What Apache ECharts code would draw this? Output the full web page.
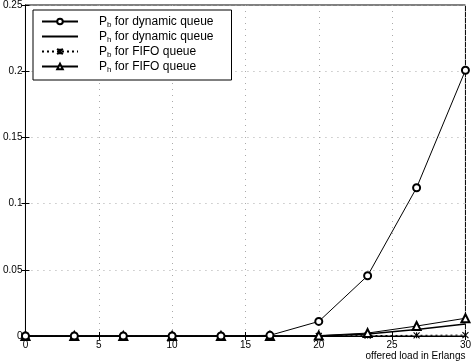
<!DOCTYPE html>
<html>
<head>
<meta charset="utf-8">
<script src="https://cdn.jsdelivr.net/npm/echarts@6/dist/echarts.min.js"></script>
<style>html,body{margin:0;padding:0;background:#fff}#c{width:474px;height:362px}</style>
</head>
<body>
<div id="c"></div>
<script>
const load = [0, 3.33, 6.67, 10, 13.33, 16.67, 20, 23.33, 26.67, 30];
const pbDynamic = [0, 0, 0, 0, 0, 0.0005, 0.011, 0.0455, 0.112, 0.2007];
const phDynamic = [0, 0, 0, 0, 0, 0, 0, 0.0015, 0.005, 0.009];
const pbFifo = [0, 0, 0, 0, 0, 0, 0, 0.0003, 0.0005, 0.0007];
const phFifo = [0, 0, 0, 0, 0, 0, 0.0003, 0.0022, 0.0075, 0.0134];
const xTicks = [0, 5, 10, 15, 20, 25, 30];
const yTicks = [0, 0.05, 0.1, 0.15, 0.2, 0.25];
const legendNames = [
  ['b', 'for dynamic queue'],
  ['h', 'for dynamic queue'],
  ['b', 'for FIFO queue'],
  ['h', 'for FIFO queue']
];
const xName = 'offered load in Erlangs';

const pairs = arr => load.map((x, i) => [x, arr[i]]);
const font = 'Liberation Sans, Arial, Helvetica, sans-serif';
const chart = echarts.init(document.getElementById('c'));
const names = legendNames.map((n, i) => 'S' + i);
const common = {
  type: 'line', color: '#000', animation: false,
  lineStyle: { color: '#000', width: 1 },
  itemStyle: { color: '#000', borderColor: '#000', borderWidth: 1.1 }
};
chart.setOption({
  animation: false,
  backgroundColor: '#fff',
  textStyle: { fontFamily: font },
  grid: { left: 22, right: 5, top: 4, bottom: 26, show: true, borderColor: '#000', borderWidth: 1, backgroundColor: 'transparent' },
  legend: {
    orient: 'vertical', left: 33, top: 10,
    backgroundColor: '#fff', borderColor: '#000', borderWidth: 1,
    padding: [4, 18, 6, 8], itemGap: 0, itemWidth: 36, itemHeight: 7,
    data: [
      { name: names[0] },
      { name: names[1], itemStyle: { opacity: 0 } },
      { name: names[2] },
      { name: names[3] }
    ],
    formatter: name => {
      const i = names.indexOf(name);
      return '{m|P}{s|' + legendNames[i][0] + '}{m| ' + legendNames[i][1] + '}';
    },
    textStyle: {
      color: '#000', fontFamily: font, fontSize: 12, padding: [0, 0, 0, 16],
      rich: {
        m: { fontSize: 12, fontFamily: font, color: '#000', lineHeight: 15 },
        s: { fontSize: 8, fontFamily: font, color: '#000', padding: [7, 0, 0, 0], lineHeight: 15 }
      }
    }
  },
  xAxis: [{
    type: 'value', min: 0, max: 30, interval: 5,
    name: xName, nameLocation: 'end', nameGap: 0,
    nameTextStyle: { fontSize: 10, color: '#000', align: 'right', verticalAlign: 'top', padding: [15, 0, 0, 0], fontFamily: font },
    axisLine: { show: true, lineStyle: { color: '#000' } },
    axisTick: { inside: true, length: 4, lineStyle: { color: '#000' } },
    axisLabel: { color: '#000', fontSize: 10, margin: 4, formatter: v => xTicks.includes(v) ? String(v) : '' },
    splitLine: { show: true, lineStyle: { type: [1, 5], color: '#aaa' } }
  }, {
    type: 'value', min: 0, max: 30, interval: 5, position: 'top',
    axisLine: { show: true, lineStyle: { color: '#000' } },
    axisTick: { inside: true, length: 4, lineStyle: { color: '#000' } },
    axisLabel: { show: false }, splitLine: { show: false }
  }],
  yAxis: [{
    type: 'value', min: 0, max: 0.25, interval: 0.05,
    axisLine: { show: true, lineStyle: { color: '#000' } },
    axisTick: { inside: true, length: 4, lineStyle: { color: '#000' } },
    axisLabel: { color: '#000', fontSize: 10, margin: 3, formatter: v => {
      const t = yTicks.find(y => Math.abs(y - v) < 1e-9);
      return t === undefined ? '' : String(+t.toFixed(2));
    } },
    splitLine: { show: true, lineStyle: { type: [1, 5], color: '#aaa' } }
  }, {
    type: 'value', min: 0, max: 0.25, interval: 0.05, position: 'right',
    axisLine: { show: true, lineStyle: { color: '#000' } },
    axisTick: { inside: true, length: 4, lineStyle: { color: '#000' } },
    axisLabel: { show: false }, splitLine: { show: false }
  }],
  series: [
    Object.assign({}, common, { name: names[0], data: pairs(pbDynamic), symbol: 'emptyCircle', symbolSize: 7, z: 5 }),
    Object.assign({}, common, { name: names[1], data: pairs(phDynamic), symbol: 'none', lineStyle: { color: '#000', width: 1.5 } }),
    Object.assign({}, common, { name: names[2], data: pairs(pbFifo), symbol: 'path://M0,0L10,10M10,0L0,10M5,0L5,10', symbolSize: 6, lineStyle: { color: '#000', width: 1, type: [2, 3] } }),
    Object.assign({}, common, { name: names[3], data: pairs(phFifo), symbol: 'emptyTriangle', symbolSize: 8 })
  ]
});
</script>
</body>
</html>
